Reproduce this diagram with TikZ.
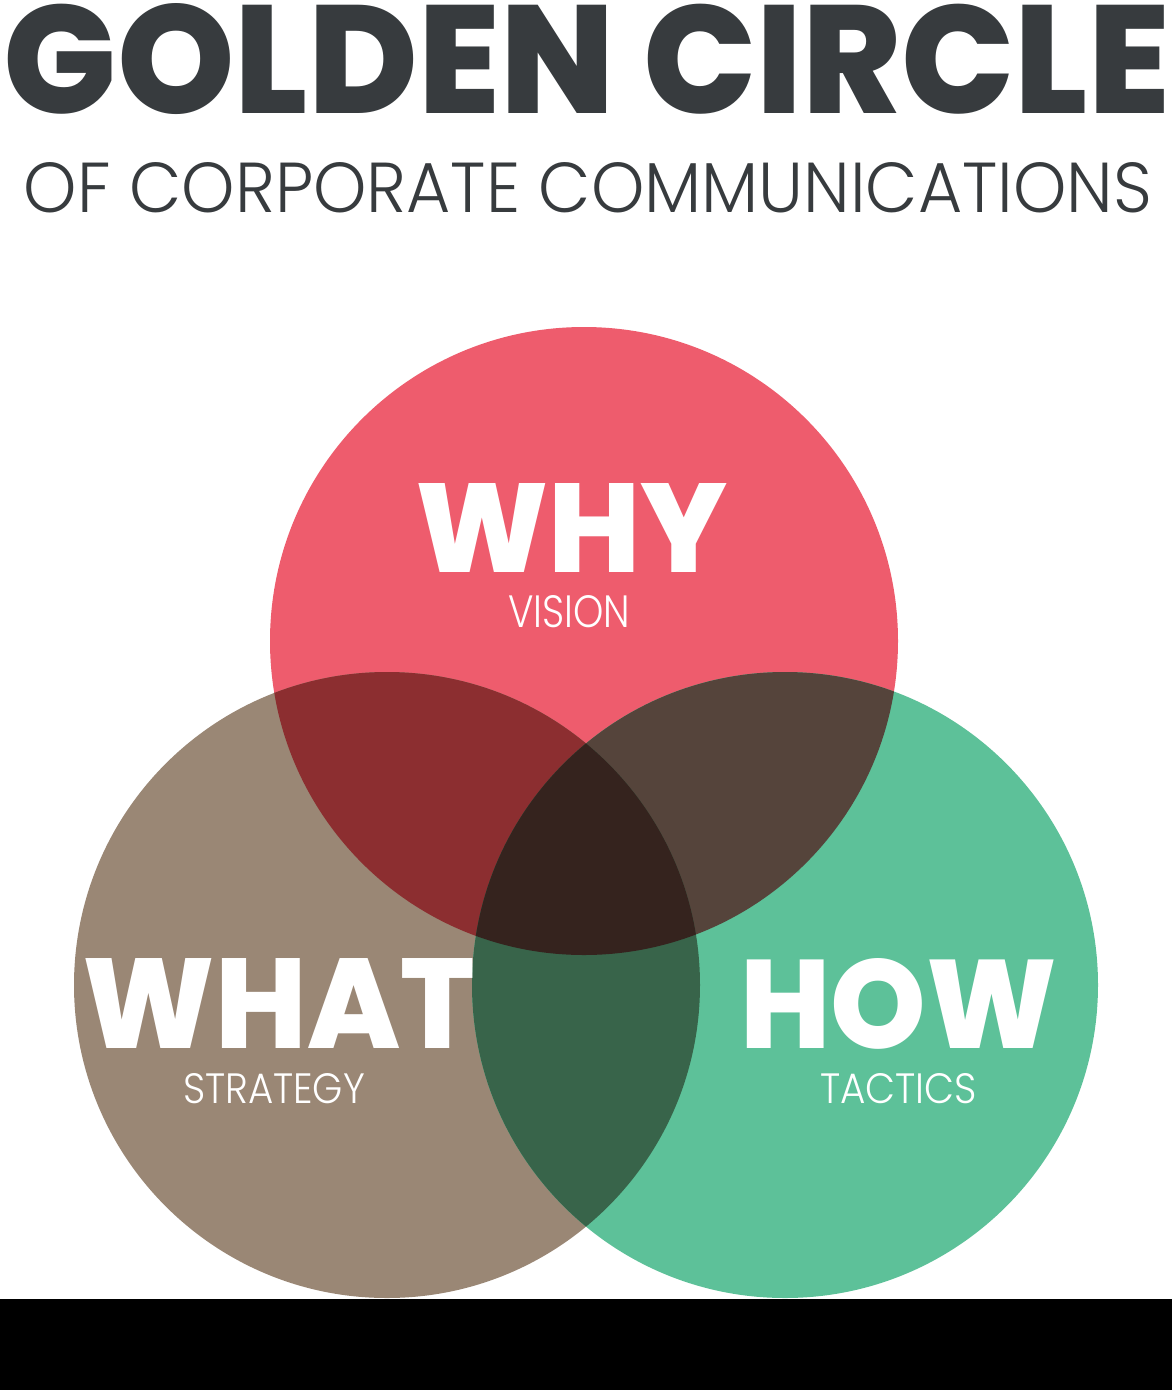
\documentclass[tikz,border=0pt]{standalone}
\usepackage{graphicx}
\usepackage{fontspec}
\setmainfont{Poppins}
\newfontfamily\popheavy{Poppins ExtraBold}
\newfontfamily\poplight{Poppins Light}
\definecolor{titlegray}{HTML}{373B3E}
\definecolor{whyred}{HTML}{EE5C6D}
\definecolor{whatbrown}{HTML}{9A8775}
\definecolor{howgreen}{HTML}{5DC199}
\definecolor{redbrown}{HTML}{8C2E30}
\definecolor{redgreen}{HTML}{55443B}
\definecolor{browngreen}{HTML}{38644A}
\definecolor{centerdark}{HTML}{35231E}
\newcommand{\fitheavy}[3]{\resizebox{#1pt}{#2pt}{\popheavy\fontsize{100}{100}\selectfont #3}}
\newcommand{\fitlight}[3]{\resizebox{#1pt}{#2pt}{\poplight\fontsize{100}{100}\selectfont #3}}
\tikzset{
  word/.style={anchor=base, inner sep=0pt, outer sep=0pt, text=white},
  headword/.style={anchor=base, inner sep=0pt, outer sep=0pt, text=titlegray},
}
\begin{document}
\begin{tikzpicture}[x=1pt,y=-1pt]
\useasboundingbox (0,0) rectangle (1172,1390);
\fill[white] (0,0) rectangle (1172,1390);
% base circles
\fill[whyred] (584,641) circle (314);
\fill[whatbrown] (387,985) circle (313);
\fill[howgreen] (785,985) circle (313);
% pairwise overlaps
\begin{scope}
  \clip (584,641) circle (314);
  \fill[redbrown] (387,985) circle (313);
\end{scope}
\begin{scope}
  \clip (584,641) circle (314);
  \fill[redgreen] (785,985) circle (313);
\end{scope}
\begin{scope}
  \clip (387,985) circle (313);
  \fill[browngreen] (785,985) circle (313);
\end{scope}
\begin{scope}
  \clip (584,641) circle (314);
  \clip (387,985) circle (313);
  \fill[centerdark] (785,985) circle (313);
\end{scope}
% titles
\node[headword] (title) at (587,113) {\fitheavy{1166}{110}{GOLDEN CIRCLE}};
\node[headword] (subtitle) at (588,212) {\fitlight{1128}{50}{OF CORPORATE COMMUNICATIONS}};
% labels
\node[word] (why) at (571.5,572) {\fitheavy{313}{89}{WHY}};
\node[word] (vision) at (569,627) {\fitlight{122}{32}{VISION}};
\node[word] (what) at (279,1048) {\fitheavy{392}{90}{WHAT}};
\node[word] (strategy) at (274,1103) {\fitlight{182}{30}{STRATEGY}};
\node[word] (how) at (898.5,1048) {\fitheavy{317}{90}{HOW}};
\node[word] (tactics) at (898.5,1103) {\fitlight{157}{30}{TACTICS}};
% bottom band
\fill[black] (0,1299) rectangle (1172,1390);
\end{tikzpicture}
\end{document}
